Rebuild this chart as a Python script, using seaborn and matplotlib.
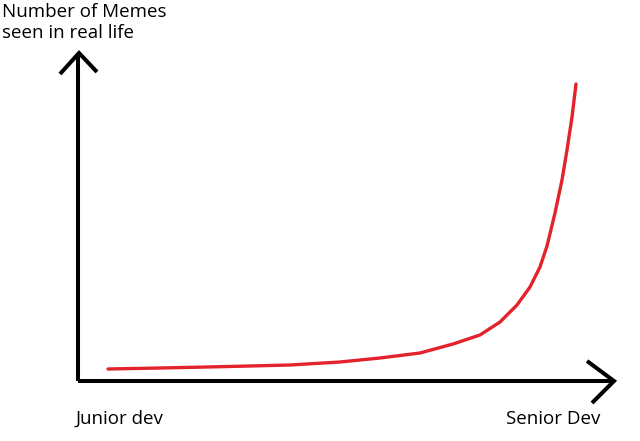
import matplotlib
matplotlib.use("Agg")
import matplotlib.pyplot as plt
import seaborn as sns
import pandas as pd

# Curve: distance along the x axis vs height above it (pixels from origin)
experience = [30, 82, 129, 172, 212, 262, 302, 342, 375, 402, 422, 439, 452,
              462, 469, 477, 484, 489, 494, 498]
memes_seen = [12, 13, 14, 15, 16, 19, 23, 28, 37, 46, 59, 76, 94,
              114, 135, 168, 201, 231, 264, 297]

y_label = "Number of Memes\nseen in real life"
x_start_label = "Junior dev"
x_end_label = "Senior Dev"

sns.set_theme(style="white")
plt.rcParams['font.family'] = ['Open Sans', 'DejaVu Sans']

df = pd.DataFrame({"experience": experience, "memes": memes_seen})

fig = plt.figure(figsize=(6.4, 4.41), dpi=100)
ax = fig.add_axes([0, 0, 1, 1])

sns.lineplot(data=df, x="experience", y="memes", color="#e3222b", linewidth=2.4,
             solid_capstyle="round", solid_joinstyle="round", ax=ax)

# hand drawn style axes with arrow heads
axis_kw = dict(color="black", linewidth=2.9, solid_capstyle="butt", solid_joinstyle="miter")
ax.plot([0, 0], [0, 328], **axis_kw)
ax.plot([0, 536], [0, 0], **axis_kw)
ax.plot([-18, 1, 19], [307, 328, 309], **axis_kw)
ax.plot([509, 536, 514], [20, 0, -22], **axis_kw)

ax.set_xlim(-78, 562)
ax.set_ylim(-60, 381)
ax.axis("off")

text_kw = dict(fontsize=13.5, color="black")
ax.text(-76, 378, y_label, va="top", ha="left", linespacing=1.25, **text_kw)
ax.text(-2, -38, x_start_label, va="center", ha="left", **text_kw)
ax.text(428, -38, x_end_label, va="center", ha="left", **text_kw)

plt.savefig("out.png", dpi=100)
plt.close()
